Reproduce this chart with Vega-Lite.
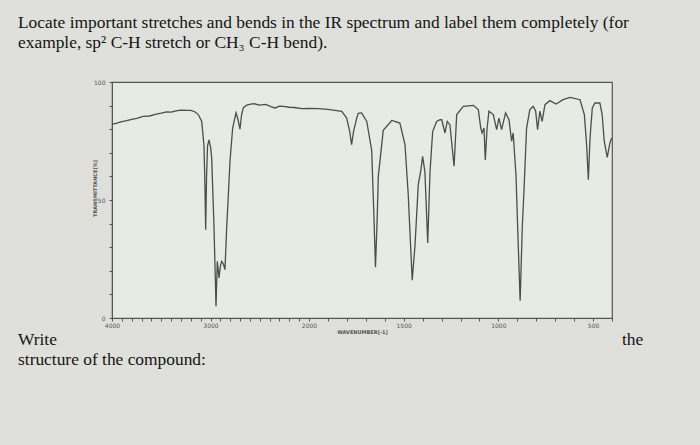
{
  "$schema": "https://vega.github.io/schema/vega-lite/v6.json",
  "width": 500,
  "height": 236,
  "autosize": {"type": "none"},
  "padding": {"left": 112, "top": 82, "right": 88, "bottom": 127},
  "background": "#dfe0dc",
  "config": {
    "view": {"fill": "#e8eae4", "stroke": "#555555", "strokeWidth": 1.2}
  },
  "title": {
    "text": [
      "Locate important stretches and bends in the IR spectrum and label them completely (for",
      "example, sp² C-H stretch or CH₃ C-H bend)."
    ],
    "anchor": "start",
    "frame": "group",
    "dx": -94,
    "offset": 28,
    "font": "Liberation Serif",
    "fontSize": 17.4,
    "fontWeight": "normal",
    "color": "#141414",
    "lineHeight": 20
  },
  "datasets": {
    "spectrum": [
      {"wn": 4000, "t": 82}, {"wn": 3950, "t": 82.6}, {"wn": 3900, "t": 83.2}, {"wn": 3850, "t": 83.6},
      {"wn": 3800, "t": 84.2}, {"wn": 3750, "t": 84.6}, {"wn": 3682, "t": 85.4}, {"wn": 3620, "t": 85.6},
      {"wn": 3550, "t": 86.4}, {"wn": 3500, "t": 86.8}, {"wn": 3445, "t": 87.3}, {"wn": 3400, "t": 87.2},
      {"wn": 3350, "t": 87.8}, {"wn": 3300, "t": 88.1}, {"wn": 3242, "t": 88.0}, {"wn": 3200, "t": 88.0},
      {"wn": 3160, "t": 87.4}, {"wn": 3124, "t": 86.2}, {"wn": 3089, "t": 83.3}, {"wn": 3066, "t": 73},
      {"wn": 3056, "t": 55}, {"wn": 3049, "t": 37.4}, {"wn": 3040, "t": 60}, {"wn": 3030, "t": 73},
      {"wn": 3015, "t": 75.5}, {"wn": 2998, "t": 72}, {"wn": 2988, "t": 67.8}, {"wn": 2964, "t": 38},
      {"wn": 2944, "t": 5}, {"wn": 2931, "t": 24}, {"wn": 2914, "t": 17}, {"wn": 2900, "t": 22},
      {"wn": 2886, "t": 24}, {"wn": 2870, "t": 23}, {"wn": 2853, "t": 20.5}, {"wn": 2836, "t": 38},
      {"wn": 2819, "t": 52}, {"wn": 2802, "t": 66.5}, {"wn": 2775, "t": 80.5}, {"wn": 2741, "t": 86.9},
      {"wn": 2720, "t": 84}, {"wn": 2701, "t": 80}, {"wn": 2685, "t": 86}, {"wn": 2667, "t": 89},
      {"wn": 2640, "t": 90}, {"wn": 2616, "t": 90.4}, {"wn": 2560, "t": 90.8}, {"wn": 2500, "t": 90.2},
      {"wn": 2440, "t": 90.5}, {"wn": 2380, "t": 89.5}, {"wn": 2345, "t": 89}, {"wn": 2300, "t": 89.8},
      {"wn": 2261, "t": 89.7}, {"wn": 2200, "t": 89.3}, {"wn": 2150, "t": 89.2}, {"wn": 2074, "t": 88.7},
      {"wn": 2000, "t": 88.8}, {"wn": 1951, "t": 88.7}, {"wn": 1900, "t": 88.4}, {"wn": 1863, "t": 88},
      {"wn": 1827, "t": 87.6}, {"wn": 1801, "t": 84.7}, {"wn": 1785, "t": 79}, {"wn": 1775, "t": 73.4},
      {"wn": 1765, "t": 79}, {"wn": 1748, "t": 84.7}, {"wn": 1740, "t": 86.7}, {"wn": 1722, "t": 86.9},
      {"wn": 1695, "t": 83.3}, {"wn": 1669, "t": 71}, {"wn": 1658, "t": 45}, {"wn": 1649, "t": 21.5},
      {"wn": 1640, "t": 42}, {"wn": 1634, "t": 60}, {"wn": 1608, "t": 79.5}, {"wn": 1563, "t": 83.7},
      {"wn": 1520, "t": 82.6}, {"wn": 1493, "t": 73.4}, {"wn": 1476, "t": 52.3}, {"wn": 1455, "t": 16},
      {"wn": 1440, "t": 31}, {"wn": 1423, "t": 56.5}, {"wn": 1410, "t": 62.2}, {"wn": 1400, "t": 68.5},
      {"wn": 1388, "t": 62}, {"wn": 1373, "t": 31.8}, {"wn": 1361, "t": 62}, {"wn": 1347, "t": 79},
      {"wn": 1326, "t": 83.3}, {"wn": 1308, "t": 84}, {"wn": 1299, "t": 84}, {"wn": 1282, "t": 78.4},
      {"wn": 1270, "t": 83.3}, {"wn": 1256, "t": 81.9}, {"wn": 1234, "t": 64.3}, {"wn": 1220, "t": 86.2},
      {"wn": 1185, "t": 89.7}, {"wn": 1132, "t": 90.1}, {"wn": 1106, "t": 88.3}, {"wn": 1093, "t": 80.5},
      {"wn": 1086, "t": 78.4}, {"wn": 1076, "t": 80.5}, {"wn": 1069, "t": 67}, {"wn": 1060, "t": 80},
      {"wn": 1050, "t": 87.6}, {"wn": 1027, "t": 86.2}, {"wn": 1009, "t": 79.8}, {"wn": 997, "t": 84.7},
      {"wn": 983, "t": 79.8}, {"wn": 962, "t": 86.9}, {"wn": 944, "t": 84}, {"wn": 930, "t": 74.9},
      {"wn": 922, "t": 78.4}, {"wn": 907, "t": 60.7}, {"wn": 898, "t": 38}, {"wn": 885, "t": 7.3},
      {"wn": 874, "t": 38}, {"wn": 865, "t": 53.7}, {"wn": 851, "t": 80.5}, {"wn": 834, "t": 88.3},
      {"wn": 816, "t": 89.7}, {"wn": 803, "t": 87.6}, {"wn": 793, "t": 79.8}, {"wn": 781, "t": 87.6},
      {"wn": 769, "t": 83.3}, {"wn": 754, "t": 90.4}, {"wn": 728, "t": 92.1}, {"wn": 696, "t": 90.7},
      {"wn": 658, "t": 92.5}, {"wn": 622, "t": 93.5}, {"wn": 569, "t": 92.5}, {"wn": 546, "t": 86.2},
      {"wn": 534, "t": 73.4}, {"wn": 525, "t": 58.6}, {"wn": 516, "t": 76.3}, {"wn": 504, "t": 89},
      {"wn": 490, "t": 91.1}, {"wn": 464, "t": 91.1}, {"wn": 452, "t": 86.2}, {"wn": 441, "t": 74.9},
      {"wn": 425, "t": 68.1}, {"wn": 411, "t": 74.2}, {"wn": 402, "t": 76.3}
    ],
    "notes": [
      {"wn": 4954, "t": -9.3, "label": "Write"},
      {"wn": 347, "t": -9.3, "label": "the"},
      {"wn": 4954, "t": -17.8, "label": "structure of the compound:"}
    ]
  },
  "encoding": {
    "x": {
      "field": "wn",
      "type": "quantitative",
      "scale": {"domain": [4000, 2000, 400], "range": [0, 197, 500], "nice": false, "zero": false},
      "axis": {
        "values": [4000, 3900, 3800, 3700, 3600, 3500, 3400, 3300, 3200, 3100, 3000, 2900, 2800, 2700, 2600, 2500, 2400, 2300, 2200, 2100, 2000, 1900, 1800, 1700, 1600, 1500, 1400, 1300, 1200, 1100, 1000, 900, 800, 700, 600, 500, 400],
        "labelExpr": "indexof([4000, 3000, 2000, 1500, 1000, 500], datum.value) >= 0 ? datum.value : ''",
        "labelOverlap": false,
        "labelFlush": false,
        "labelFontSize": 6,
        "labelFont": "DejaVu Sans",
        "labelColor": "#555555",
        "labelPadding": 1,
        "tickSize": 3,
        "tickColor": "#555555",
        "domainColor": "#555555",
        "grid": false,
        "title": "WAVENUMBER[-1]",
        "titleFont": "DejaVu Sans",
        "titleFontSize": 5,
        "titleFontWeight": "bold",
        "titleColor": "#555555",
        "titlePadding": 1
      }
    },
    "y": {
      "field": "t",
      "type": "quantitative",
      "scale": {"domain": [0, 100], "nice": false, "zero": false},
      "axis": {
        "values": [0, 10, 20, 30, 40, 50, 60, 70, 80, 90, 100],
        "labelExpr": "datum.value % 50 === 0 ? datum.value : ''",
        "labelFontSize": 6,
        "labelFont": "DejaVu Sans",
        "labelColor": "#555555",
        "labelPadding": 4,
        "tickSize": 3,
        "tickColor": "#555555",
        "domainColor": "#555555",
        "grid": false,
        "title": "TRANSMITTANCE[%]",
        "titleFont": "DejaVu Sans",
        "titleFontSize": 5,
        "titleFontWeight": "bold",
        "titleColor": "#555555",
        "titleX": -15,
        "titleY": 106
      }
    }
  },
  "layer": [
    {
      "data": {"name": "spectrum"},
      "mark": {"type": "line", "color": "#4d4d4d", "strokeWidth": 1.3}
    },
    {
      "data": {"name": "notes"},
      "mark": {"type": "text", "font": "Liberation Serif", "fontSize": 17.4, "align": "left", "baseline": "middle", "color": "#141414"},
      "encoding": {"text": {"field": "label"}}
    }
  ]
}
